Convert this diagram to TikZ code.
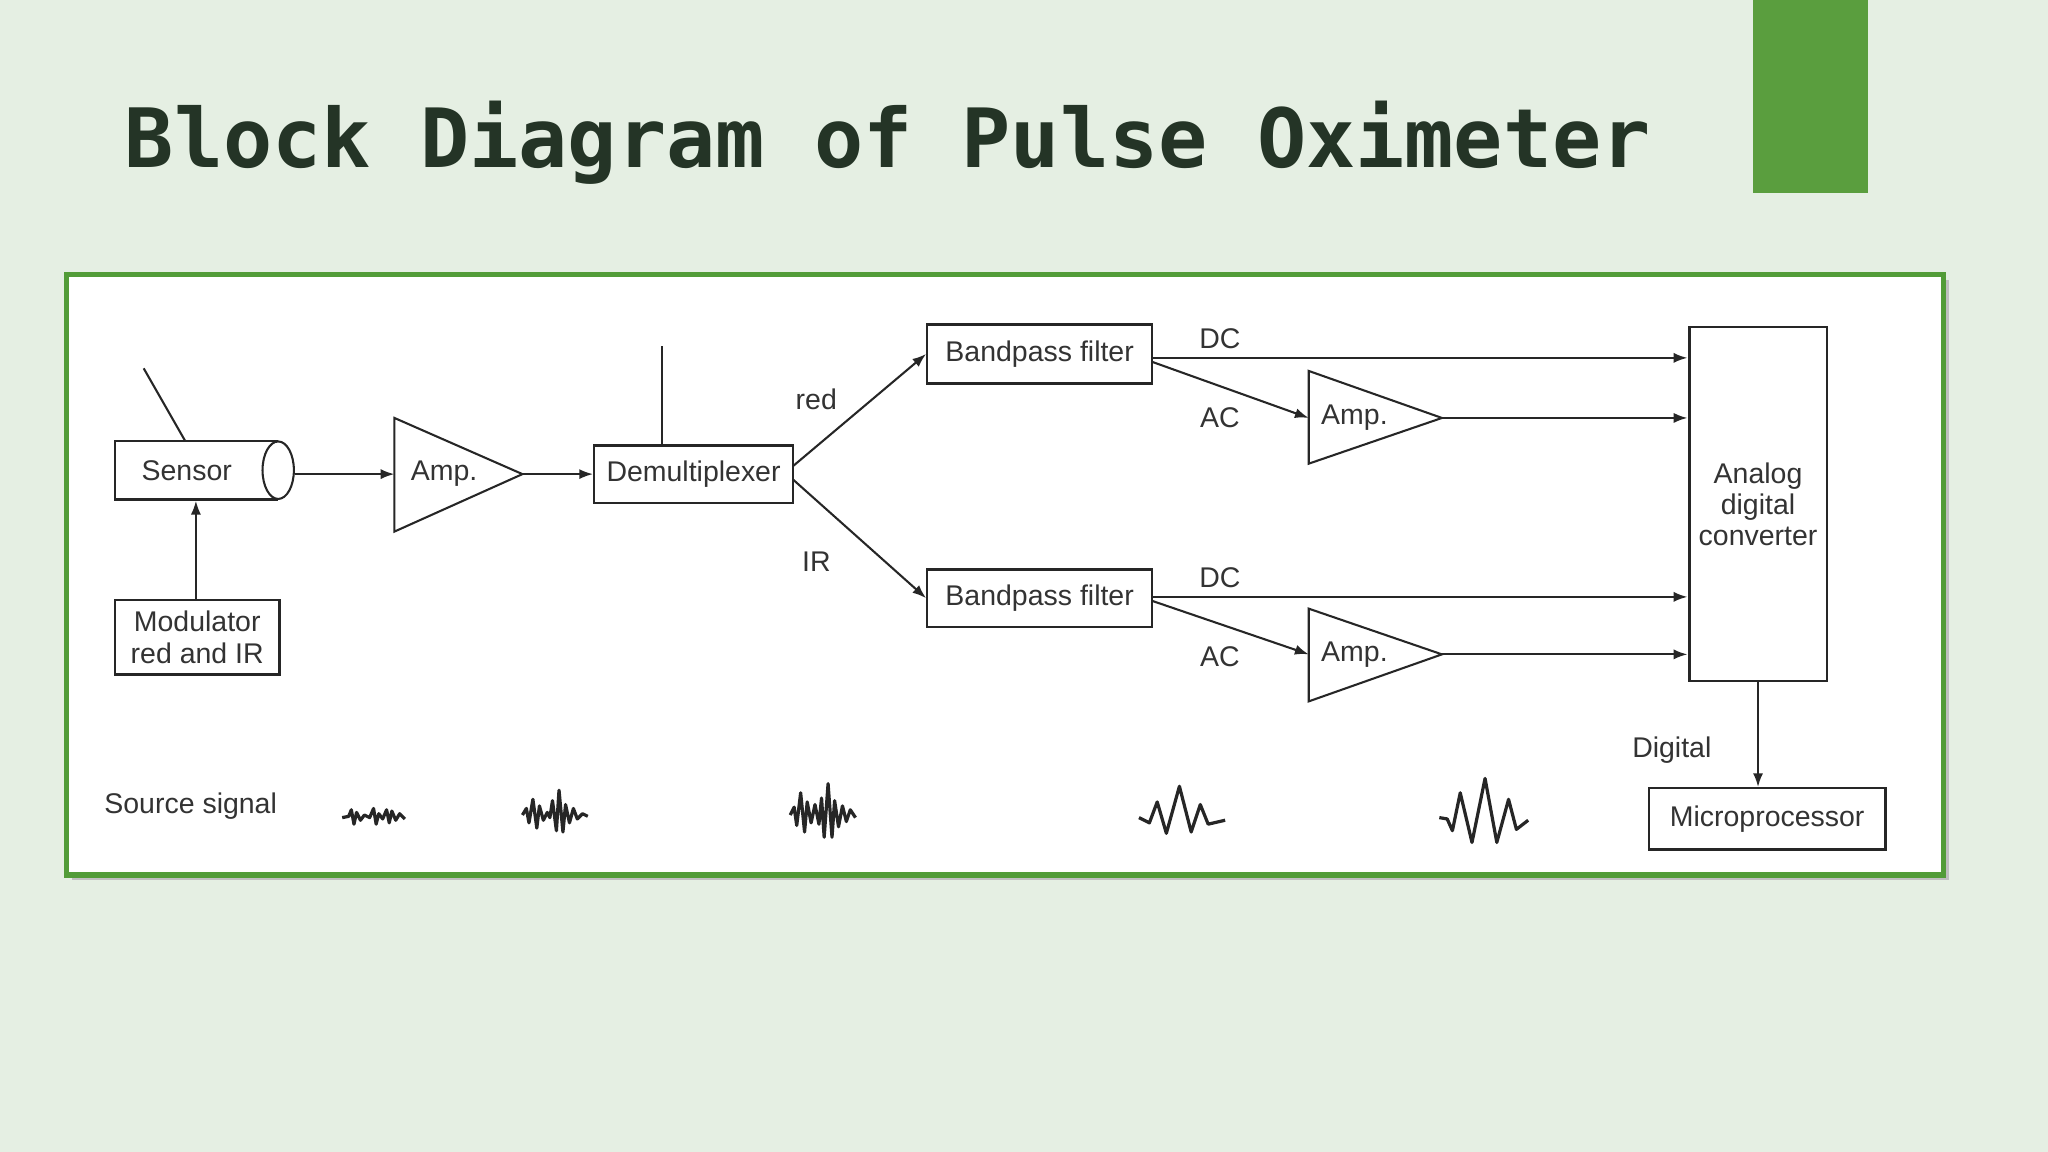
\documentclass[tikz,border=0pt]{standalone}
\usepackage{fontspec}
\setmainfont{Liberation Sans}
\newfontfamily\titlefont{DejaVu Sans Mono}
\usetikzlibrary{arrows.meta}
\definecolor{bgc}{RGB}{229,239,227}
\definecolor{tabc}{RGB}{90,158,62}
\definecolor{titc}{RGB}{36,52,38}
\definecolor{framec}{RGB}{82,156,56}
\begin{document}
\begin{tikzpicture}[x=0.01cm,y=-0.01cm,
  box/.style={draw=black!85,line width=0.5pt,fill=white,inner sep=0pt},
  lab/.style={text=black!80,font=\fontsize{6.2}{6.8}\selectfont,inner sep=0pt,align=center},
  ln/.style={draw=black!85,line width=0.45pt},
  arr/.style={ln,-{Latex[length=3pt,width=2.2pt]}},
  wave/.style={black!85,line width=0.7pt,line join=round}]
\fill[bgc] (0,0) rectangle (1568,882);
\fill[tabc] (1342,0) rectangle (1430,148);
\node[anchor=base west,inner sep=0pt,text=titc,font=\titlefont\bfseries\fontsize{17.8}{21}\selectfont] (title) at (95,128) {Block Diagram of Pulse Oximeter};
\fill[black!25] (55,214) rectangle (1492,674);
\draw[draw=framec,line width=1.2pt,fill=white] (51,210) rectangle (1488,670);
% nodes
\node[box,minimum width=1.24cm,minimum height=0.45cm] (sensor) at (150,360) {};
\node[lab] at (143,360) {Sensor};
\draw[ln,fill=white] (213,360) ellipse [x radius=0.12cm, y radius=0.22cm];
\coordinate (cyl) at (226,363);
\coordinate (sen1) at (110,282);
\coordinate (sen2) at (142,338);
\draw[ln] (sen1) -- (sen2);
\node[box,lab,minimum width=1.26cm,minimum height=0.57cm] (mod) at (151,488) {Modulator\\red and IR};
\node[box,lab,minimum width=1.52cm,minimum height=0.44cm] (demux) at (531,363) {Demultiplexer};
\coordinate (dm1) at (507,265);
\draw[ln] (dm1) -- (demux.north -| dm1);
\node[box,lab,minimum width=1.72cm,minimum height=0.45cm] (bp1) at (796,271) {Bandpass filter};
\node[box,lab,minimum width=1.72cm,minimum height=0.44cm] (bp2) at (796,458) {Bandpass filter};
\node[box,lab,minimum width=1.05cm,minimum height=2.71cm] (adc) at (1346,386) {Analog\\digital\\converter};
\node[box,lab,minimum width=1.81cm,minimum height=0.47cm] (mp) at (1353,627) {Microprocessor};
% amps
\draw[ln,fill=white] (302,320) -- (302,407) -- (400,363) -- cycle;
\node[lab] (amp1) at (340,363) {Amp.};
\coordinate (a1in) at (302,363); \coordinate (a1out) at (400,363);
\draw[ln,fill=white] (1002,284) -- (1002,355) -- (1104,320) -- cycle;
\node[lab] (amp2) at (1037,320) {Amp.};
\coordinate (a2in) at (1002,320); \coordinate (a2out) at (1104,320);
\draw[ln,fill=white] (1002,466) -- (1002,537) -- (1104,501) -- cycle;
\node[lab] (amp3) at (1037,501) {Amp.};
\coordinate (a3in) at (1002,501); \coordinate (a3out) at (1104,501);
% connectors
\coordinate (mx) at (150,0);
\draw[arr] (mod.north -| mx) -- (sensor.south -| mx);
\draw[arr] (cyl) -- (a1in);
\draw[arr] (a1out) -- (demux.west);
\draw[arr] (607,357) -- (bp1.west);
\draw[arr] (607,367) -- (bp2.west);
\draw[arr] (882,274) -- (1292,274);
\draw[arr] (882,277) -- (a2in);
\draw[arr] (a2out) -- (1292,320);
\draw[arr] (882,457) -- (1292,457);
\draw[arr] (882,460) -- (a3in);
\draw[arr] (a3out) -- (1292,501);
\draw[arr] (adc.south) -- (mp.north -| adc.south);
% labels
\node[lab] at (625,306) {red};
\node[lab] at (625,430) {IR};
\node[lab] at (934,259) {DC};
\node[lab] at (934,320) {AC};
\node[lab] at (934,442) {DC};
\node[lab] at (934,503) {AC};
\node[lab] at (1280,574) {Digital};
\node[lab] at (146,617) {Source signal};
% waveforms
\draw[wave] (262,626) -- (267,625) -- (269,620) -- (271,631) -- (273,622) -- (276,628) -- (279,624) -- (283,626) -- (286,619) -- (288,631) -- (290,623) -- (293,627) -- (296,620) -- (298,630) -- (300,621) -- (303,628) -- (306,623) -- (310,627);
\draw[wave] (400,624) -- (403,619) -- (405,630) -- (408,612) -- (411,634) -- (413,617) -- (416,628) -- (419,622) -- (421,626) -- (423,613) -- (426,636) -- (428,605) -- (431,637) -- (433,616) -- (436,630) -- (439,619) -- (442,627) -- (446,623) -- (450,625);
\draw[wave] (605,624) -- (608,618) -- (610,632) -- (613,607) -- (616,637) -- (618,614) -- (621,630) -- (624,616) -- (627,631) -- (629,611) -- (631,641) -- (634,600) -- (637,641) -- (639,613) -- (642,633) -- (645,617) -- (648,629) -- (651,620) -- (655,626);
\draw[wave] (872,626) -- (880,630) -- (886,614) -- (893,638) -- (903,602) -- (912,637) -- (919,616) -- (925,631) -- (938,628);
\draw[wave] (1102,626) -- (1108,627) -- (1112,636) -- (1118,607) -- (1127,645) -- (1137,596) -- (1146,645) -- (1155,612) -- (1161,635) -- (1170,628);
\end{tikzpicture}
\end{document}
